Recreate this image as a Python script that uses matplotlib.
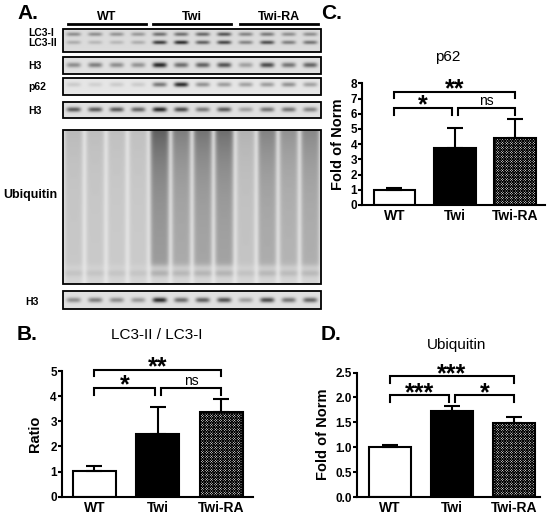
import numpy as np
import matplotlib.pyplot as plt

plt.rcParams['font.family'] = ['Liberation Sans', 'DejaVu Sans']
plt.rcParams['hatch.linewidth'] = 0.6

groups = ['WT', 'Twi', 'Twi-RA']

# bar chart values (mean, upper error)
ratio_mean = [1.02, 2.5, 3.35]
ratio_err = [0.2, 1.05, 0.55]
p62_mean = [1.0, 3.75, 4.42]
p62_err = [0.1, 1.33, 1.24]
ubq_mean = [1.0, 1.72, 1.48]
ubq_err = [0.05, 0.11, 0.12]

# significance labels: (WT vs Twi, Twi vs Twi-RA, WT vs Twi-RA)
ratio_sig = ['*', 'ns', '**']
p62_sig = ['*', 'ns', '**']
ubq_sig = ['***', '*', '***']

# western blot band strengths per lane (12 lanes: 4 WT, 4 Twi, 4 Twi-RA)
lc3_i = [0.30, 0.30, 0.28, 0.26, 0.42, 0.42, 0.45, 0.52, 0.34, 0.38, 0.30, 0.30]
lc3_ii = [0.18, 0.14, 0.14, 0.18, 0.62, 0.68, 0.48, 0.58, 0.34, 0.55, 0.36, 0.40]
h3_a = [0.32, 0.38, 0.32, 0.30, 0.72, 0.45, 0.50, 0.55, 0.25, 0.58, 0.42, 0.48]
p62_band = [0.10, 0.08, 0.10, 0.10, 0.42, 0.72, 0.32, 0.28, 0.26, 0.28, 0.32, 0.26]
h3_b = [0.52, 0.52, 0.52, 0.48, 0.72, 0.58, 0.40, 0.52, 0.25, 0.42, 0.42, 0.36]
ubq_lane = [0.10, 0.09, 0.08, 0.08, 0.46, 0.34, 0.38, 0.40, 0.13, 0.32, 0.26, 0.30]
h3_c = [0.32, 0.38, 0.32, 0.28, 0.70, 0.45, 0.50, 0.55, 0.25, 0.58, 0.42, 0.48]

W, H = 550, 520
NL = 12


def lane_profile(w, half=0.33, p=4):
    xs = (np.arange(w) + 0.5) / w * NL
    return [np.exp(-np.abs((xs - (i + 0.5)) / half) ** p) for i in range(NL)]


def band_blot(h, w, bands, bg):
    img = np.full((h, w), bg)
    ys = (np.arange(h) + 0.5) / h
    lanes = lane_profile(w)
    for ypos, sig, vals in bands:
        vp = np.exp(-((ys - ypos) / sig) ** 2)
        for i in range(NL):
            img -= vals[i] * np.outer(vp, lanes[i])
    return np.clip(img, 0, 1)


def smear_blot(h, w, vals):
    img = np.full((h, w), 0.91)
    ys = (np.arange(h) + 0.5) / h
    lanes = lane_profile(w, half=0.44, p=6)
    smear = (0.45 + 0.55 * np.exp(-ys / 0.3)) * (1 / (1 + np.exp((ys - 0.88) / 0.01)))
    band = np.exp(-((ys - 0.93) / 0.022) ** 2)
    for i in range(NL):
        col = 0.08 + vals[i] * smear + (0.04 + 0.2 * vals[i]) * band
        img -= np.outer(col, lanes[i])
    return np.clip(img, 0, 1)


fig = plt.figure(figsize=(5.5, 5.2), dpi=100)
ax0 = fig.add_axes([0, 0, 1, 1])
ax0.axis('off')

bx0, bx1 = 63, 321
blots = [
    (28.7, 52.3, 'lc3'),
    (56.7, 74.0, 'h3a'),
    (77.7, 95.0, 'p62'),
    (101.7, 118.3, 'h3b'),
    (130.0, 284.0, 'ubq'),
    (291.0, 309.0, 'h3c'),
]
for y0, y1, key in blots:
    h = int((y1 - y0) * 4)
    w = int((bx1 - bx0) * 4)
    if key == 'lc3':
        img = band_blot(h, w, [(0.26, 0.08, lc3_i), (0.60, 0.08, lc3_ii)], 0.86)
    elif key == 'p62':
        img = band_blot(h, w, [(0.42, 0.13, p62_band)], 0.9)
    elif key == 'ubq':
        img = smear_blot(h, w, ubq_lane)
    else:
        vals = {'h3a': h3_a, 'h3b': h3_b, 'h3c': h3_c}[key]
        img = band_blot(h, w, [(0.5, 0.14, vals)], 0.88)
    ax0.imshow(img, cmap='gray', vmin=0, vmax=1, extent=(bx0, bx1, y1, y0),
               aspect='auto', interpolation='bilinear')
    ax0.add_patch(plt.Rectangle((bx0, y0), bx1 - bx0, y1 - y0, fill=False,
                                ec='black', lw=1.3))
ax0.set_xlim(0, W)
ax0.set_ylim(H, 0)

# group headers above the blots
for (gx0, gx1), name in zip([(68, 146), (153, 231), (240, 318)], groups):
    ax0.plot([gx0, gx1], [24.3, 24.3], color='black', lw=2)
    ax0.text((gx0 + gx1) / 2, 17.5, name, ha='center', va='center',
             fontsize=9, fontweight='bold')

blot_labels = [('LC3-I', 28, 33.5, 7.5), ('LC3-II', 28, 42.5, 7.5), ('H3', 28, 66, 7.5),
               ('p62', 28, 87, 7.5), ('H3', 28, 111, 7.5), ('Ubiquitin', 3, 195, 9),
               ('H3', 25, 302, 7.5)]
for txt, x, y, fs in blot_labels:
    ax0.text(x, y, txt, ha='left', va='center', fontsize=fs, fontweight='bold')

for txt, x, y in [('A.', 17, 13.5), ('C.', 321, 13.5), ('B.', 17, 335), ('D.', 321, 335)]:
    ax0.text(x, y, txt, ha='left', va='center', fontsize=15, fontweight='bold')

ax0.text(448, 57, 'p62', ha='center', va='center', fontsize=11)
ax0.text(157, 335, 'LC3-II / LC3-I', ha='center', va='center', fontsize=11)
ax0.text(457, 345, 'Ubiquitin', ha='center', va='center', fontsize=11)


def px_rect(left, right, top, bottom):
    return [left / W, 1 - bottom / H, (right - left) / W, (bottom - top) / H]


def bar_panel(rect, xlim, width, means, errs, ylim, yticks, ylabel, sig,
              low, high, tick_fmt, labelpad):
    ax = fig.add_axes(rect)
    x = np.arange(len(groups))
    faces = ['white', 'black', 'white']
    hatches = [None, None, 'x' * 13]
    for i in range(len(groups)):
        ax.bar(x[i], means[i], width=width, color=faces[i], edgecolor='black',
               linewidth=1.5, hatch=hatches[i], zorder=2)
    ax.errorbar(x, means, yerr=[np.zeros(len(errs)), errs], fmt='none',
                ecolor='black', elinewidth=1.5, capsize=5.5, capthick=1.5, zorder=3)
    ax.set_xlim(*xlim)
    ax.set_ylim(*ylim)
    ax.set_yticks(yticks)
    ax.set_yticklabels([tick_fmt.format(t) for t in yticks], fontweight='bold', fontsize=8.5)
    ax.set_xticks(x)
    ax.set_xticklabels(groups, fontweight='bold', fontsize=10)
    ax.tick_params(axis='x', length=0, pad=3)
    ax.tick_params(axis='y', width=1.5, length=3, pad=0.5)
    for s in ['top', 'right']:
        ax.spines[s].set_visible(False)
    for s in ['left', 'bottom']:
        ax.spines[s].set_linewidth(1.5)
    ax.set_ylabel(ylabel, fontweight='bold', fontsize=10.5, labelpad=labelpad)

    # significance brackets
    tip = (ylim[1] - ylim[0]) * 0.052
    pairs = [(0.0, 0.95, low, sig[0]), (1.05, 2.0, low, sig[1]), (0.0, 2.0, high, sig[2])]
    for xa, xb, yv, lab in pairs:
        ax.plot([xa, xa, xb, xb], [yv - tip, yv, yv, yv - tip], color='black',
                lw=1.5, clip_on=False, solid_joinstyle='miter')
        if lab == 'ns':
            ax.annotate(lab, ((xa + xb) / 2, yv), xytext=(0, 3), textcoords='offset pixels',
                        ha='center', va='baseline', fontsize=10)
        else:
            ax.annotate(lab, ((xa + xb) / 2, yv), xytext=(0, -4.5), textcoords='offset pixels',
                        ha='center', va='baseline', fontsize=18, fontweight='bold',
                        annotation_clip=False)
    return ax


bar_panel(px_rect(61.7, 253, 371, 496.7), (-0.515, 2.496), 0.677,
          ratio_mean, ratio_err, (0, 5), [0, 1, 2, 3, 4, 5], 'Ratio', ratio_sig,
          4.32, 5.05, '{:g}', 6)
bar_panel(px_rect(362, 545, 83.3, 205), (-0.536, 2.493), 0.69,
          p62_mean, p62_err, (0, 8), list(range(9)), 'Fold of Norm', p62_sig,
          6.36, 7.45, '{:g}', 4)
bar_panel(px_rect(356.7, 540, 372.5, 497), (-0.53, 2.416), 0.67,
          ubq_mean, ubq_err, (0, 2.5), [0, 0.5, 1.0, 1.5, 2.0, 2.5], 'Fold of Norm',
          ubq_sig, 2.04, 2.42, '{:.1f}', 4)

fig.savefig('out.png', dpi=100)
